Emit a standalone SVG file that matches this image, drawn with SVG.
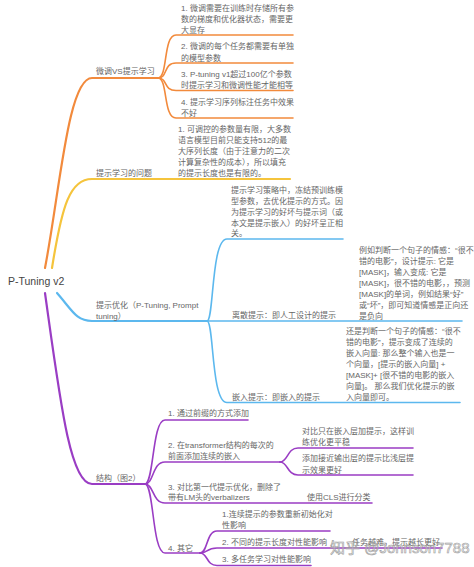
<svg xmlns="http://www.w3.org/2000/svg" width="474" height="567" viewBox="0 0 474 567">
<style>
text{font-family:"Liberation Sans","Noto Sans CJK SC",sans-serif;font-size:8px;fill:#666}
.root{font-size:10.5px;fill:#444}
.c{fill:none;stroke-linecap:round;stroke-linejoin:round}
.o{stroke:#f28a3c}.y{stroke:#f5c43c}.b{stroke:#5cb8ee}.p{stroke:#9a3dc4}
.m{stroke-width:2.2}.s{stroke-width:1.6}
.wm{font-size:15px;fill:#fff;fill-opacity:0.4;stroke:#9a9a9a;stroke-width:0.6}
</style>
<rect width="474" height="567" fill="#fff"/>
<g id="connectors">
  <path class="c o m" d="M45,268 C60,190 68,78 92,78 L158,78"/>
  <path class="c o s" d="M158,78 C168,78 163,35 176,35 L293,35"/>
  <path class="c o s" d="M158,78 C168,78 163,63 176,63 L293,63"/>
  <path class="c o s" d="M158,78 C168,78 163,90.5 176,90.5 L293,90.5"/>
  <path class="c o s" d="M158,78 C168,78 163,118 176,118 L293,118"/>
  <path class="c y m" d="M52,268 C62,205 70,179 92,179 L290,179"/>
  <path class="c b m" d="M57,293 C72,310 76,321 92,321 L207,321"/>
  <path class="c b s" d="M207,321 C214,321 211,239 227,239 L343,239"/>
  <path class="c b s" d="M207,321 L462,321"/>
  <path class="c b s" d="M207,321 C214,321 211,402.5 227,402.5 L460,402.5"/>
  <path class="c p m" d="M45,293 C60,400 70,484 92,484 L145,484"/>
  <path class="c p s" d="M145,484 C154,484 152,420 165,420 L248,420"/>
  <path class="c p s" d="M145,484 C154,484 152,462 165,462 L280,462"/>
  <path class="c p s" d="M280,462 C288,462 287,448 298,448 L413,448"/>
  <path class="c p s" d="M280,462 C288,462 287,475 298,475 L413,475"/>
  <path class="c p s" d="M145,484 C154,484 152,503 165,503 L372,503"/>
  <path class="c p s" d="M145,484 C154,484 152,553 165,553 L200,553"/>
  <path class="c p s" d="M200,553 C208,553 206,531 217,531 L330,531"/>
  <path class="c p s" d="M200,553 C208,553 206,548 217,548 L442,548"/>
  <path class="c p s" d="M200,553 C208,553 206,565.5 217,565.5 L311,565.5"/>
</g>
<g id="root"><text class="root" x="8" y="285">P-Tuning v2</text></g>
<g id="n-vs"><text x="96" y="74">微调VS提示学习</text></g>
<g id="n-vs1"><text x="181" y="10.5">1. 微调需要在训练时存储所有参</text><text x="181" y="21.5">数的梯度和优化器状态，需要更</text><text x="181" y="32.5">大显存</text></g>
<g id="n-vs2"><text x="181" y="49">2. 微调的每个任务都需要有单独</text><text x="181" y="60.5">的模型参数</text></g>
<g id="n-vs3"><text x="181" y="77">3. P-tuning v1超过100亿个参数</text><text x="181" y="88">时提示学习和微调性能才能相等</text></g>
<g id="n-vs4"><text x="181" y="104.5">4. 提示学习序列标注任务中效果</text><text x="181" y="115.5">不好</text></g>
<g id="n-prob"><text x="96" y="176">提示学习的问题</text></g>
<g id="n-prob1"><text x="178" y="132">1. 可调控的参数量有限，大多数</text><text x="178" y="143">语言模型目前只能支持512的最</text><text x="178" y="154">大序列长度（由于注意力的二次</text><text x="178" y="165">计算复杂性的成本），所以填充</text><text x="178" y="176">的提示长度也是有限的。</text></g>
<g id="n-opt"><text x="96" y="308">提示优化（P-Tuning, Prompt</text><text x="96" y="319">tuning）</text></g>
<g id="n-opt1"><text x="231" y="193">提示学习策略中，冻结预训练模</text><text x="231" y="204">型参数，去优化提示的方式。因</text><text x="231" y="214.5">为提示学习的好坏与提示词（或</text><text x="231" y="225.5">本文是提示嵌入）的好坏呈正相</text><text x="231" y="236">关。</text></g>
<g id="n-disc"><text x="232" y="318">离散提示：即人工设计的提示</text></g>
<g id="n-disc1"><text x="359" y="253">例如判断一个句子的情感：“很不</text><text x="359" y="264">错的电影”，设计提示: 它是</text><text x="359" y="275">[MASK]，输入变成: 它是</text><text x="359" y="286">[MASK]，很不错的电影，，预测</text><text x="359" y="297">[MASK]的单词，例如结果“好”</text><text x="359" y="308">或“坏”，即可知道情感是正向还</text><text x="359" y="319">是负向</text></g>
<g id="n-emb"><text x="232" y="400">嵌入提示：即嵌入的提示</text></g>
<g id="n-emb1"><text x="346" y="334">还是判断一个句子的情感：“很不</text><text x="346" y="345">错的电影”，提示变成了连续的</text><text x="346" y="356">嵌入向量: 那么整个输入也是一</text><text x="346" y="367">个向量，[提示的嵌入向量] +</text><text x="346" y="378">[MASK]+ [很不错的电影的嵌入</text><text x="346" y="389">向量]。 那么我们优化提示的嵌</text><text x="346" y="400">入向量即可。</text></g>
<g id="n-struct"><text x="96" y="481">结构（图2）</text></g>
<g id="n-s1"><text x="168" y="416">1. 通过前缀的方式添加</text></g>
<g id="n-s2"><text x="168" y="448">2. 在transformer结构的每次的</text><text x="168" y="459">前面添加连续的嵌入</text></g>
<g id="n-s2a"><text x="302" y="434">对比只在嵌入层加提示，这样训</text><text x="302" y="445">练优化更平稳</text></g>
<g id="n-s2b"><text x="302" y="461">添加接近输出层的提示比浅层提</text><text x="302" y="472.5">示效果更好</text></g>
<g id="n-s3"><text x="168" y="489.5">3. 对比第一代提示优化，删除了</text><text x="168" y="500">带有LM头的verbalizers</text></g>
<g id="n-s3a"><text x="307" y="500">使用CLS进行分类</text></g>
<g id="n-s4"><text x="168" y="551">4. 其它</text></g>
<g id="n-s4a"><text x="222" y="517">1.连续提示的参数重新初始化对</text><text x="222" y="528">性影响</text></g>
<g id="n-s4b"><text x="222" y="545">2. 不同的提示长度对性能影响</text></g>
<g id="n-s4b1"><text x="352" y="544.5">任务越难，提示越长更好</text></g>
<g id="n-s4c"><text x="222" y="562">3. 多任务学习对性能影响</text></g>
<text class="wm" x="330" y="553">知乎 @Johnson7788</text>
</svg>
